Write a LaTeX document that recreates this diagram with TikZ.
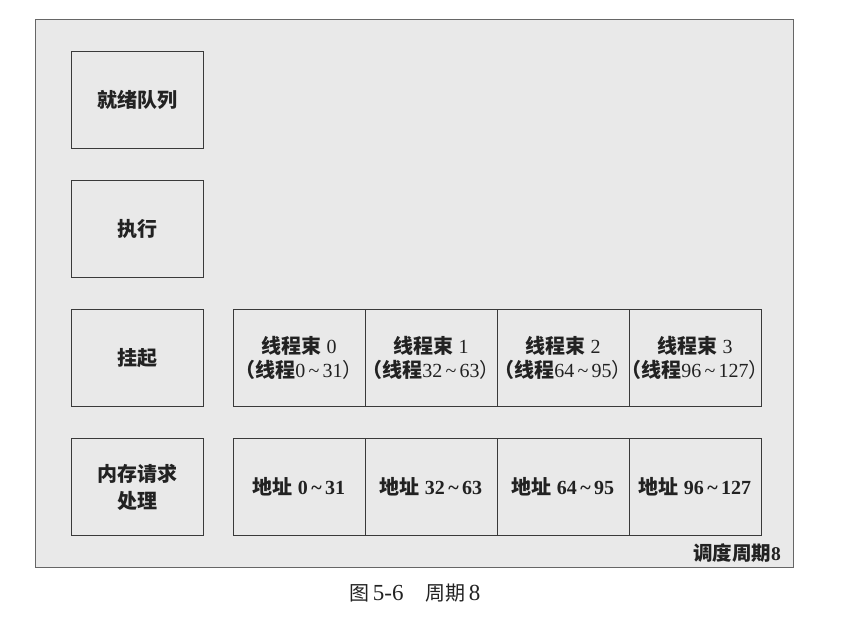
\documentclass[tikz,border=0pt]{standalone}
\usepackage{fontspec}
\setmainfont{Liberation Serif}
\newfontfamily\cjk{Noto Sans CJK SC}
\newcommand{\zh}[1]{{\cjk #1}}
\newcommand{\tl}{\,\textasciitilde\,}
\newcommand{\zb}[1]{\makebox[0pt]{#1}}
\definecolor{bgc}{HTML}{E9E9E9}
\definecolor{linec}{HTML}{3A3A3A}
\definecolor{txtc}{HTML}{222222}
\begin{document}
\begin{tikzpicture}[x=1pt,y=-1pt,
  cell/.style={draw=linec,line width=0.9pt,minimum width=132pt,minimum height=97pt,
    inner sep=0pt,align=center,text=txtc,font=\fontsize{20}{26}\selectfont\bfseries},
  warpcell/.style={cell,font=\fontsize{20}{24.5}\selectfont},
  lbl/.style={text=txtc,inner sep=0pt}]
\useasboundingbox (0,0) rectangle (855,626);
\fill[white] (0,0) rectangle (855,626);
\draw[draw=black!60,fill=bgc,line width=0.9pt] (35,19) rectangle (793,567);
% left column
\node[cell] (ready) at (137,100) {\zh{就绪队列}};
\node[cell] (exec)  at (137,229) {\zh{执行}};
\node[cell] (susp)  at (137,358) {\zh{挂起}};
\node[cell,font=\fontsize{20}{27}\selectfont\bfseries] (mem) at (137,487) {\zh{内存请求}\\\zh{处理}};
% warp row
\node[warpcell] (w0) at (299,358) {\zb{\zh{\bfseries 线程束} 0}\\\zb{\zh{\bfseries （线程}0\tl31\zh{）}}};
\node[warpcell] (w1) at (431,358) {\zb{\zh{\bfseries 线程束} 1}\\\zb{\zh{\bfseries （线程}32\tl63\zh{）}}};
\node[warpcell] (w2) at (563,358) {\zb{\zh{\bfseries 线程束} 2}\\\zb{\zh{\bfseries （线程}64\tl95\zh{）}}};
\node[warpcell] (w3) at (695,358) {\zb{\zh{\bfseries 线程束} 3}\\\zb{\zh{\bfseries （线程}96\tl127\zh{）}}};
% address row
\node[cell] (a0) at (299,487) {\zh{地址} 0\tl31};
\node[cell] (a1) at (431,487) {\zh{地址} 32\tl63};
\node[cell] (a2) at (563,487) {\zh{地址} 64\tl95};
\node[cell] (a3) at (695,487) {\zh{地址} 96\tl127};
% cycle label
\node[lbl,anchor=east,font=\fontsize{19.5}{22}\selectfont\bfseries] (cyc) at (781,553) {\zh{调度周期}8};
% caption
\node[lbl,font=\fontsize{20}{22}\selectfont] (cap) at (415,593) {\zh{图}\,{\fontsize{23}{24}\selectfont 5-6}\hspace{1.1em}\zh{周期}\,{\fontsize{23}{24}\selectfont 8}};
\end{tikzpicture}
\end{document}
